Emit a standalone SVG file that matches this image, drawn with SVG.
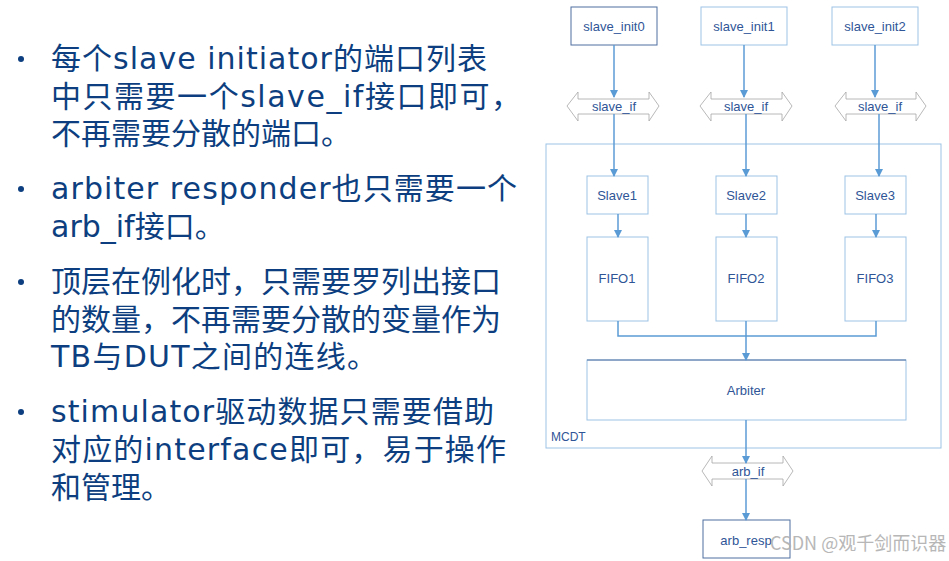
<svg xmlns="http://www.w3.org/2000/svg" width="949" height="561" viewBox="0 0 949 561">
<style>
.t{font-family:"DejaVu Sans","Noto Sans CJK SC",sans-serif;font-size:30px;fill:#0d3f80}
.b{fill:#fff;stroke:#9dc3e6;stroke-width:1}
.bd{fill:#fff;stroke:#4f6fa0;stroke-width:1}
.l{font-family:"Liberation Sans","Noto Sans CJK SC",sans-serif;font-size:13px;fill:#2f5597;text-anchor:middle}
.c{stroke:#5b9bd5;stroke-width:1.5;fill:none}
.if{fill:#fff;stroke:#a6a6a6;stroke-width:0.8}
</style>
<defs>
<marker id="a" markerWidth="8" markerHeight="8" refX="7" refY="4" orient="auto" markerUnits="userSpaceOnUse"><path d="M0,0 L8,4 L0,8 z" fill="#5b9bd5"/></marker>
</defs>
<rect width="949" height="561" fill="#fff"/>
<g id="text">
<circle cx="21" cy="59" r="3" fill="#0d3f80"/>
<circle cx="21" cy="189" r="3" fill="#0d3f80"/>
<circle cx="21" cy="282" r="3" fill="#0d3f80"/>
<circle cx="21" cy="412" r="3" fill="#0d3f80"/>
<text class="t" x="51" y="69" textLength="436">每个slave initiator的端口列表</text>
<text class="t" x="51" y="107" textLength="470">中只需要一个slave_if接口即可，</text>
<text class="t" x="51" y="144">不再需要分散的端口。</text>
<text class="t" x="51" y="199" textLength="466">arbiter responder也只需要一个</text>
<text class="t" x="51" y="237">arb_if接口。</text>
<text class="t" x="51" y="292">顶层在例化时，只需要罗列出接口</text>
<text class="t" x="51" y="330">的数量，不再需要分散的变量作为</text>
<text class="t" x="51" y="367" textLength="326">TB与DUT之间的连线。</text>
<text class="t" x="51" y="422" textLength="443">stimulator驱动数据只需要借助</text>
<text class="t" x="51" y="460" textLength="455">对应的interface即可，易于操作</text>
<text class="t" x="51" y="498">和管理。</text>
</g>
<g id="mcdt"><rect class="b" x="546" y="144" width="395" height="304" stroke="#8faadc"/><text class="l" x="551" y="441" style="text-anchor:start;font-size:12px">MCDT</text></g>
<g id="init0"><rect class="bd" x="571" y="7" width="86" height="38"/><text class="l" x="614" y="31">slave_init0</text></g>
<g id="init1"><rect class="b" x="701" y="7" width="86" height="38"/><text class="l" x="744" y="31">slave_init1</text></g>
<g id="init2"><rect class="b" x="832" y="7" width="86" height="38"/><text class="l" x="875" y="31">slave_init2</text></g>
<g id="if0"><path class="if" d="M567,106 L578,92 L578,99 L649,99 L649,92 L659,106 L649,121 L649,114 L578,114 L578,121 Z"/><text class="l" x="614" y="111">slave_if</text></g>
<g id="if1"><path class="if" d="M700,106 L711,92 L711,99 L782,99 L782,92 L792,106 L782,121 L782,114 L711,114 L711,121 Z"/><text class="l" x="746" y="111">slave_if</text></g>
<g id="if2"><path class="if" d="M835,106 L846,92 L846,99 L916,99 L916,92 L926,106 L916,121 L916,114 L846,114 L846,121 Z"/><text class="l" x="880" y="111">slave_if</text></g>
<g id="s1"><rect class="b" x="587" y="176" width="61" height="38"/><text class="l" x="617" y="200">Slave1</text></g>
<g id="s2"><rect class="b" x="716" y="176" width="61" height="38"/><text class="l" x="746" y="200">Slave2</text></g>
<g id="s3"><rect class="b" x="845" y="176" width="61" height="38"/><text class="l" x="875" y="200">Slave3</text></g>
<g id="f1"><rect class="b" x="587" y="237" width="61" height="84"/><text class="l" x="617" y="283">FIFO1</text></g>
<g id="f2"><rect class="b" x="716" y="237" width="61" height="84"/><text class="l" x="746" y="283">FIFO2</text></g>
<g id="f3"><rect class="b" x="845" y="237" width="61" height="84"/><text class="l" x="875" y="283">FIFO3</text></g>
<g id="arb"><rect class="b" x="587" y="360" width="319" height="60"/><line x1="587" y1="360" x2="906" y2="360" stroke="#4f6fa0"/><text class="l" x="746" y="395">Arbiter</text></g>
<g id="arbif"><path class="if" d="M702,471 L712,456 L712,463 L783,463 L783,456 L793,471 L783,486 L783,479 L712,479 L712,486 Z"/><text class="l" x="748" y="476">arb_if</text></g>
<g id="resp"><rect class="bd" x="703" y="520" width="87" height="38"/><text class="l" x="746" y="545">arb_resp</text></g>
<g id="connectors">
<line class="c" x1="614" y1="45" x2="614" y2="97" marker-end="url(#a)"/>
<line class="c" x1="744" y1="45" x2="744" y2="97" marker-end="url(#a)"/>
<line class="c" x1="875" y1="45" x2="875" y2="97" marker-end="url(#a)"/>
<line class="c" x1="614" y1="114" x2="614" y2="176" marker-end="url(#a)"/>
<line class="c" x1="746" y1="114" x2="746" y2="176" marker-end="url(#a)"/>
<line class="c" x1="879" y1="114" x2="879" y2="176" marker-end="url(#a)"/>
<line class="c" x1="618" y1="214" x2="618" y2="237" marker-end="url(#a)"/>
<line class="c" x1="746" y1="214" x2="746" y2="237" marker-end="url(#a)"/>
<line class="c" x1="876" y1="214" x2="876" y2="237" marker-end="url(#a)"/>
<path class="c" d="M618,321 V336 H876 V321" stroke-width="1"/>
<line class="c" x1="746" y1="321" x2="746" y2="360" marker-end="url(#a)"/>
<line class="c" x1="746" y1="420" x2="746" y2="463" marker-end="url(#a)"/>
<line class="c" x1="746" y1="479" x2="746" y2="520" marker-end="url(#a)"/>
</g>
<text x="770" y="550" style="font-family:'Noto Sans CJK SC',sans-serif;font-size:18px;fill:#b0b0b0;opacity:0.9">CSDN @观千剑而识器</text>
</svg>
